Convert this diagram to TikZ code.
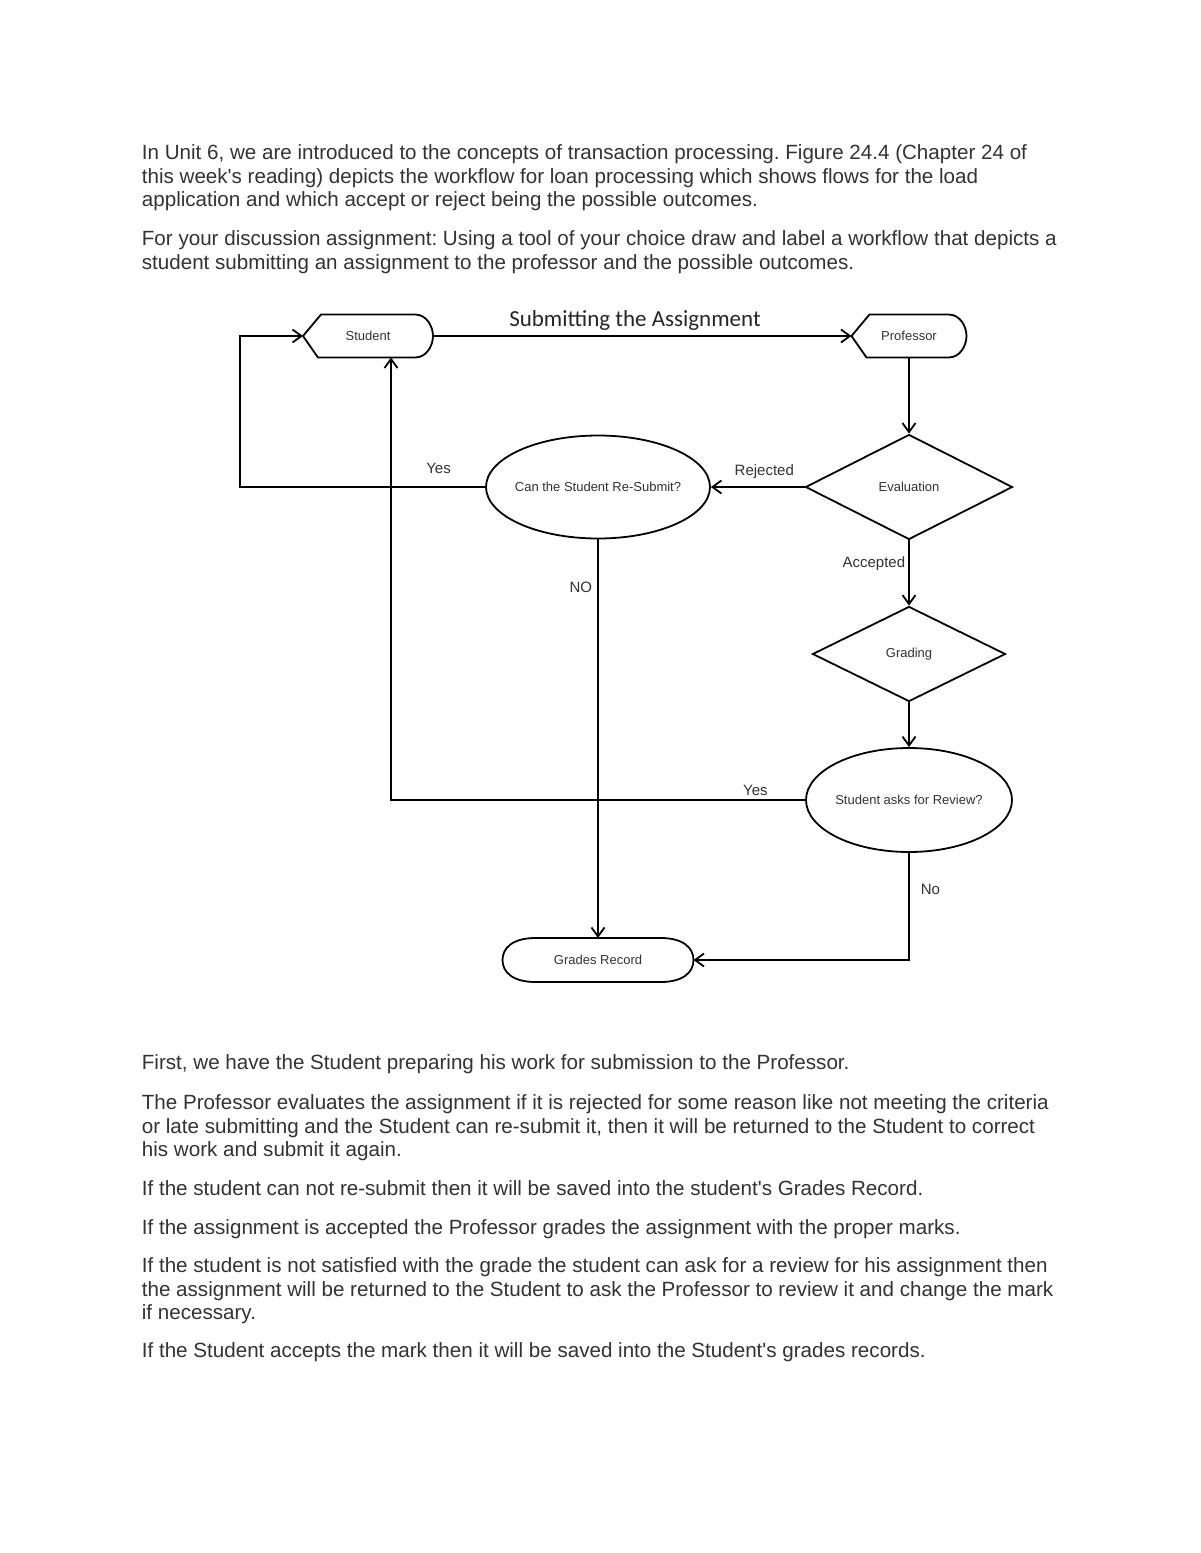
\documentclass[tikz,border=0pt]{standalone}
\usepackage{fontspec}
\setmainfont{Liberation Sans}[Ligatures=TeXOff]
\newfontfamily\titlefont{Carlito}
\usetikzlibrary{arrows.meta,shapes.geometric}

% outline of a display box (pointed left end, rounded right end)
\newcommand{\displayoutline}[1]{%
  \draw (#1.west) -- ([shift={(18,0)}]#1.north west) -- ([shift={(-18,0)}]#1.north east)
    .. controls ([shift={(-6,0)}]#1.north east) and ([shift={(0,-9)}]#1.east) .. (#1.east)
    .. controls ([shift={(0,9)}]#1.east) and ([shift={(-6,0)}]#1.south east) .. ([shift={(-18,0)}]#1.south east)
    -- ([shift={(15,0)}]#1.south west) -- cycle;}
% outline of a terminal box (rounded both ends)
\newcommand{\terminaloutline}[1]{%
  \draw ([shift={(33,0)}]#1.north west) -- ([shift={(-33,0)}]#1.north east)
    .. controls ([shift={(-10,0)}]#1.north east) and ([shift={(0,-12)}]#1.east) .. (#1.east)
    .. controls ([shift={(0,12)}]#1.east) and ([shift={(-10,0)}]#1.south east) .. ([shift={(-33,0)}]#1.south east)
    -- ([shift={(33,0)}]#1.south west)
    .. controls ([shift={(10,0)}]#1.south west) and ([shift={(0,12)}]#1.west) .. (#1.west)
    .. controls ([shift={(0,-12)}]#1.west) and ([shift={(10,0)}]#1.north west) .. ([shift={(33,0)}]#1.north west) -- cycle;}

\begin{document}
\begin{tikzpicture}[x=0.5pt,y=-0.5pt,line width=0.9pt,
  >={Straight Barb[length=4.5pt,width=6.5pt]},
  boxtext/.style={font=\fontsize{6.5}{8}\selectfont,text=black!80},
  display/.style={boxtext,shape=rectangle,inner sep=0pt,outer sep=0pt,minimum height=21.5pt},
  decision/.style={boxtext,diamond,draw,inner sep=0pt},
  question/.style={boxtext,ellipse,draw,inner xsep=-14pt,inner ysep=0pt},
  lbl/.style={font=\fontsize{7.5}{9}\selectfont,text=black!80,inner sep=1.5pt},
  para/.style={anchor=north west,align=left,inner sep=0pt,text=black!80,font=\fontsize{10.3}{11.75}\selectfont\frenchspacing}]
  \useasboundingbox[fill=white] (0,0) rectangle (1200,1553);

  % text above the chart
  \node[para] (intro) at (141,142.5) {\strut In Unit 6, we are introduced to the concepts of transaction processing. Figure 24.4 (Chapter 24 of\\
    this week's reading) depicts the workflow for loan processing which shows flows for the load\\
    application and which accept or reject being the possible outcomes.};
  \node[para] (task) at (141,228.5) {\strut For your discussion assignment: Using a tool of your choice draw and label a workflow that depicts a\\
    student submitting an assignment to the professor and the possible outcomes.};

  % the workflow
  \node[font=\titlefont\fontsize{11.5}{13}\selectfont,text=black!85] (title) at (635,320) {Submitting the Assignment};
  \node[display,minimum width=65pt] 		(student) 	at (368,336) 	{Student};
  \node[display,minimum width=57.5pt] 	(professor) at (909,336) 	{Professor};
  \node[decision,minimum width=103.5pt,minimum height=52.5pt] (evaluation) at (909,487) {Evaluation};
  \node[question,minimum width=112pt,minimum height=51.5pt] 	(resubmit) 	at (598,487) {Can the Student Re-Submit?};
  \node[decision,minimum width=96.5pt,minimum height=47.5pt] 	(grading) 	at (909,654) {Grading};
  \node[question,minimum width=103pt,minimum height=52pt] 	(review) 	at (909,800) {Student asks for Review?};
  \node[display,minimum width=95.5pt,minimum height=22pt] 	(grades) 	at (598,960) {Grades Record};
  \displayoutline{student}
  \displayoutline{professor}
  \terminaloutline{grades}
  \coordinate (yesturn) at (240,487);

  \path[->]	(student) 	edge 	(professor)
			(professor) edge 	(evaluation)
			(evaluation) edge node[lbl,above,pos=.43,yshift=2pt] {Rejected} (resubmit)
			(evaluation) edge node[lbl,left,pos=.36] {Accepted} (grading)
			(grading) 	edge 	(review)
			(resubmit) 	edge node[lbl,left,pos=.12,xshift=-1pt] {NO} (grades);
  \draw[->] (resubmit.west) -- node[lbl,above,pos=.19,yshift=4.5pt] {Yes} (yesturn) |- (student.west);
  \draw[->] (review.west) -| node[lbl,above,pos=.06] {Yes} ([shift={(23,0)}]student.south);
  \draw[->] (review.south) |- node[lbl,right,pos=.17,xshift=4pt] {No} (grades.east);

  % text below the chart
  \node[para] (first) 	at (141,1052.5) {\strut First, we have the Student preparing his work for submission to the Professor.};
  \node[para] (reject) 	at (141,1092.5) {\strut The Professor evaluates the assignment if it is rejected for some reason like not meeting the criteria\\
    or late submitting and the Student can re-submit it, then it will be returned to the Student to correct\\
    his work and submit it again.};
  \node[para] (noresub) 	at (141,1178.5) {\strut If the student can not re-submit then it will be saved into the student's Grades Record.};
  \node[para] (accept) 	at (141,1217.5) {\strut If the assignment is accepted the Professor grades the assignment with the proper marks.};
  \node[para] (askrev) 	at (141,1255.5) {\strut If the student is not satisfied with the grade the student can ask for a review for his assignment then\\
    the assignment will be returned to the Student to ask the Professor to review it and change the mark\\
    if necessary.};
  \node[para] (keep) 	at (141,1340.5) {\strut If the Student accepts the mark then it will be saved into the Student's grades records.};
\end{tikzpicture}
\end{document}
